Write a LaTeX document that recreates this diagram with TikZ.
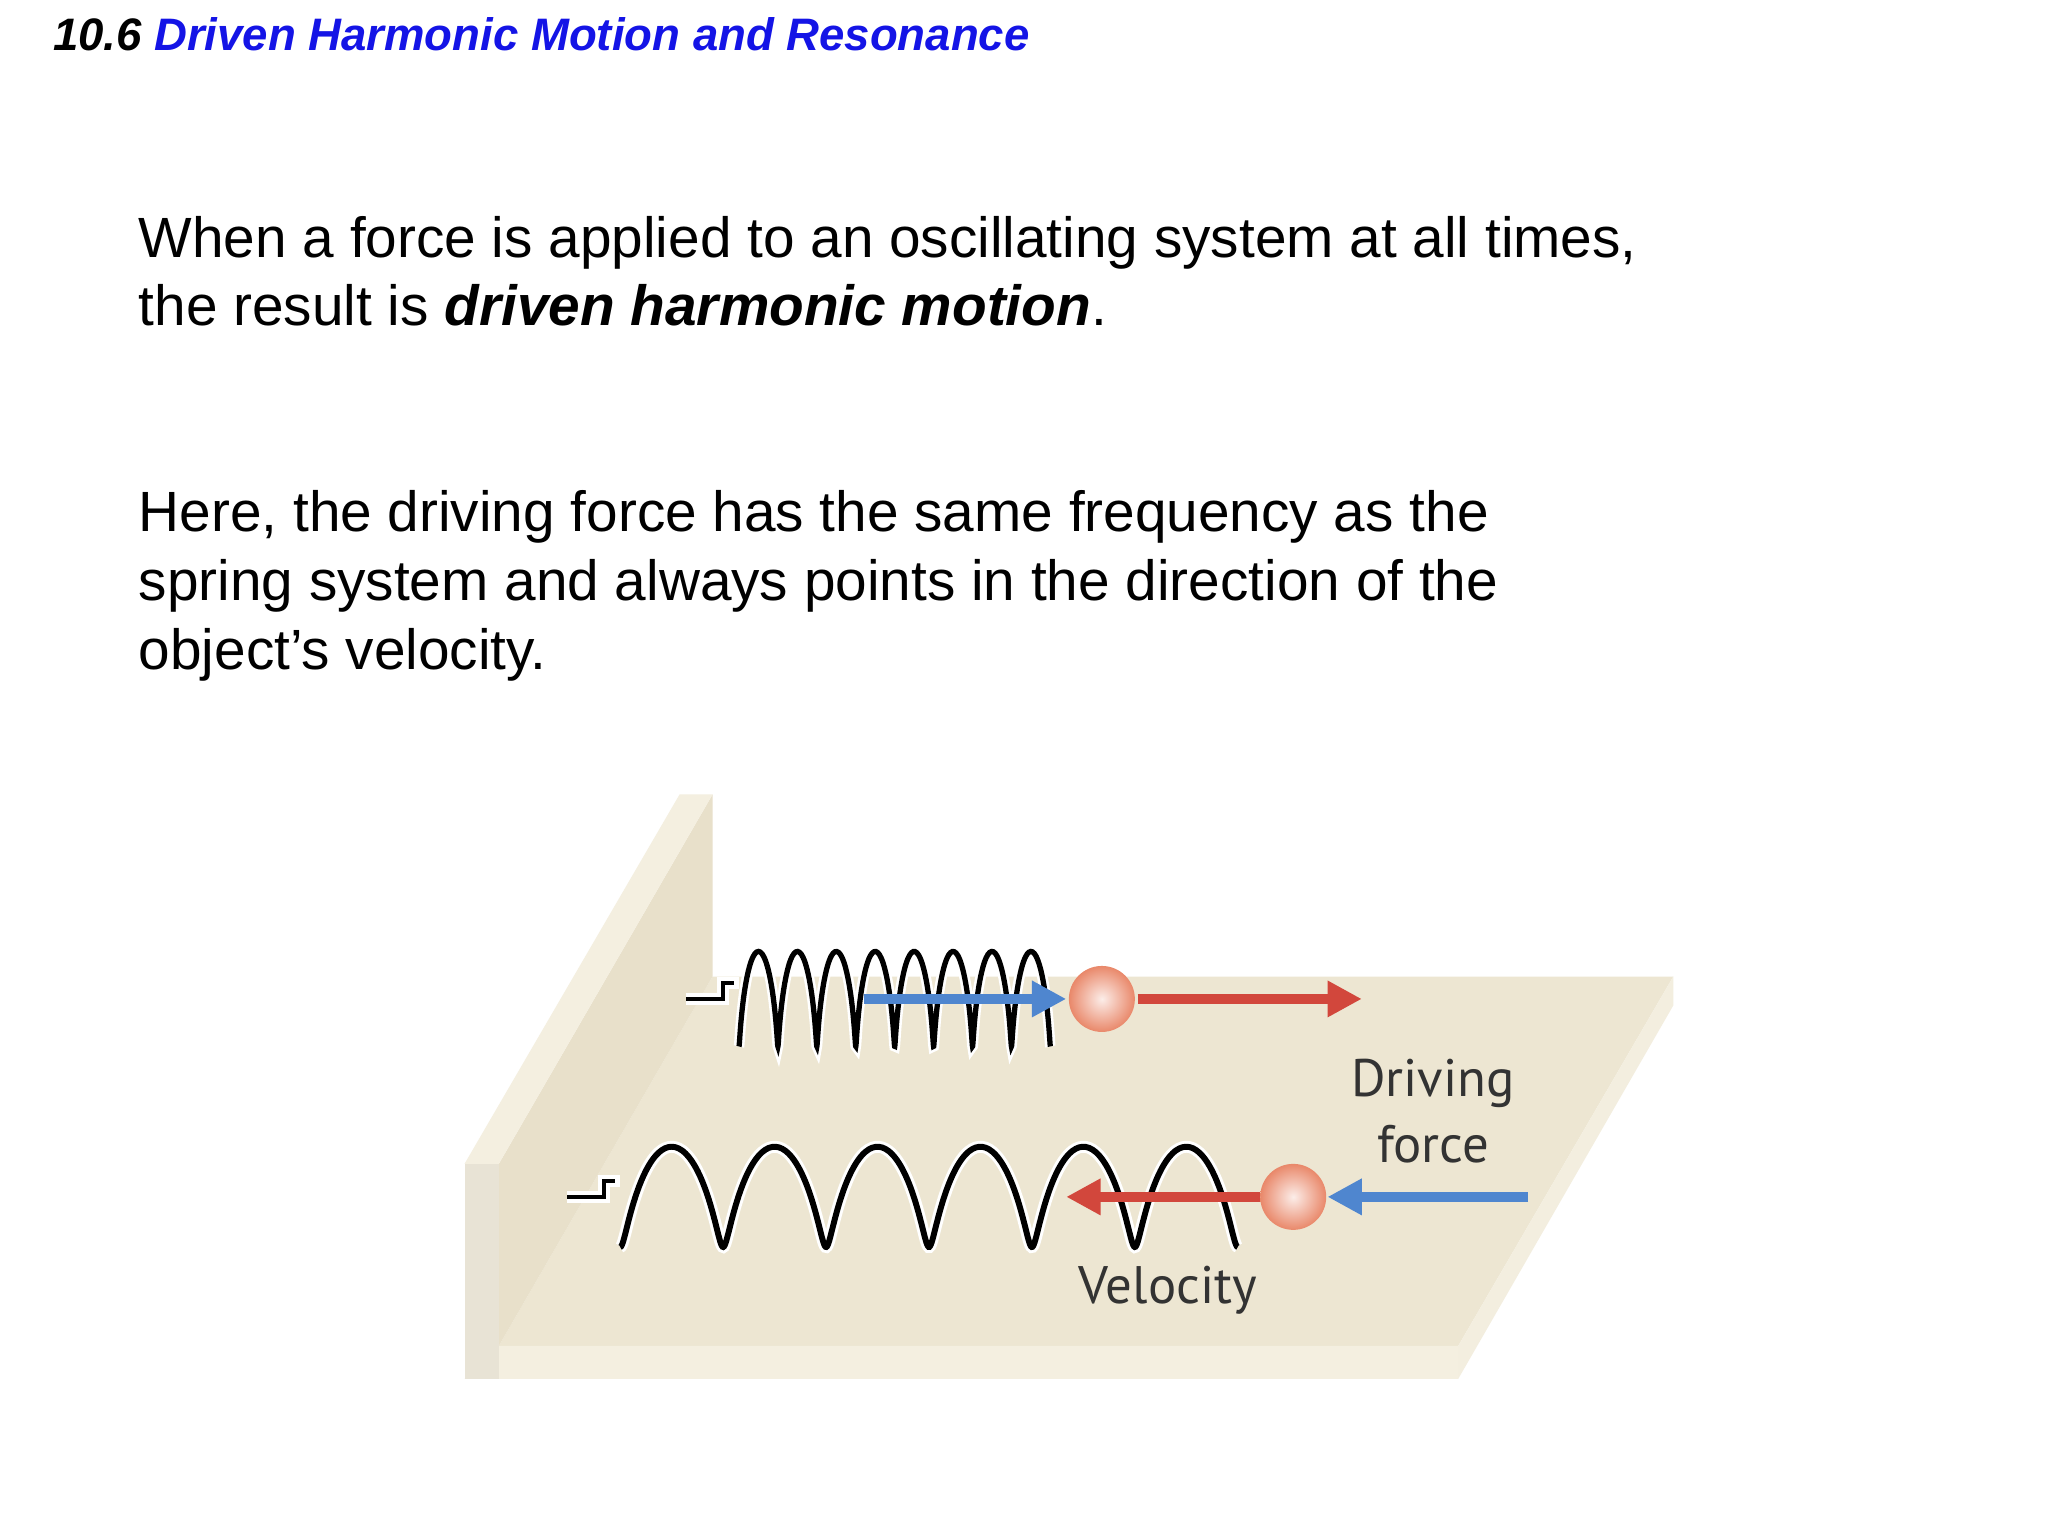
\documentclass[tikz,border=0pt]{standalone}
\usepackage{fontspec}
\setmainfont{Liberation Sans}
\newfontfamily\labfont{PT Sans}
\usetikzlibrary{arrows.meta}
\definecolor{floorc}{HTML}{EDE6D2}
\definecolor{edgec}{HTML}{F4EFE0}
\definecolor{wallc}{HTML}{E8E0CA}
\definecolor{redar}{HTML}{D2473C}
\definecolor{bluear}{HTML}{4F86CF}
\definecolor{ballc}{HTML}{E9886A}
\definecolor{titleblue}{HTML}{1414E6}
\tikzset{
 body/.style={anchor=base west,inner sep=0pt,font=\fontsize{43}{52}\selectfont},
 lab/.style={inner sep=0pt,font=\labfont\fontsize{40}{50}\selectfont,text=black!80,align=center},
 arr/.style={line width=7pt,-{Triangle[length=26pt,width=26pt]}},
 coilw/.style={white,line width=9pt},
 coilb/.style={black,line width=4.5pt},
 ballsh/.style={inner color=white!85!ballc,outer color=ballc}
}
\begin{document}
\begin{tikzpicture}[x=1pt,y=-1pt]
\useasboundingbox[fill=white] (0,0) rectangle (1552,1164);
\node[anchor=base west,inner sep=0pt,font=\fontsize{34.5}{40}\selectfont\bfseries\itshape] (title) at (40,38) {10.6 \textcolor{titleblue}{Driven Harmonic Motion and Resonance}};
\node[body] (t1) at (105,195) {When a force is applied to an oscillating system at all times,};
\node[body] (t2) at (105,247) {the result is \textbf{\textit{driven harmonic motion}}.};
\node[body] (t3) at (105,403) {Here, the driving force has the same frequency as the};
\node[body] (t4) at (105,455) {spring system and always points in the direction of the};
\node[body] (t5) at (105,507) {object’s velocity.};
% floor
\fill[floorc] (540,740) -- (1268,740) -- (1105,1020) -- (378,1020) -- cycle;
\fill[edgec] (378,1020) -- (1105,1020) -- (1105,1045) -- (352,1045) -- cycle;
\fill[edgec!90!floorc] (1268,740) -- (1268,762) -- (1105,1045) -- (1105,1020) -- cycle;
% wall
\fill[wallc] (540,602) -- (540,740) -- (378,1020) -- (378,882) -- cycle;
\fill[edgec] (515,602) -- (540,602) -- (378,882) -- (352,882) -- cycle;
\fill[edgec!95!black] (352,882) -- (378,882) -- (378,1045) -- (352,1045) -- cycle;
% top spring
\draw[coilw] (520,757) -- (548,757) -- (548,745) -- (560,745);
\draw[coilb,line width=3pt] (520,757) -- (548,757) -- (548,745) -- (556,745);
\draw[coilw,line width=8pt] plot[domain=0:8,samples=320,smooth] ({560+29.5*\x-4*sin(360*\x)},{757+36*cos(360*\x)});
\draw[coilb,line width=4pt] plot[domain=0:8,samples=320,smooth] ({560+29.5*\x-4*sin(360*\x)},{757+36*cos(360*\x)});
% bottom spring
\draw[coilw] (430,907) -- (458,907) -- (458,895) -- (470,895);
\draw[coilb,line width=3pt] (430,907) -- (458,907) -- (458,895) -- (466,895);
\draw[coilw] plot[domain=0:6,samples=300,smooth] ({470+78*\x-8*sin(360*\x)},{907+38*cos(360*\x)});
\draw[coilb] plot[domain=0:6,samples=300,smooth] ({470+78*\x-8*sin(360*\x)},{907+38*cos(360*\x)});
% balls
\shade[ballsh] (835,757) circle (25) node (b1) {};
\shade[ballsh] (980,907) circle (25) node (b2) {};
\coordinate (r1s) at (862,757); \coordinate (r1e) at (1032,757);
\coordinate (u1s) at (655,757); \coordinate (u1e) at (808,757);
\coordinate (r2s) at (955,907); \coordinate (r2e) at (808,907);
\coordinate (u2s) at (1158,907); \coordinate (u2e) at (1006,907);
\draw[arr,redar] (r1s) -- (r1e);
\draw[arr,bluear] (u1s) -- (u1e);
\draw[arr,redar] (r2s) -- (r2e);
\draw[arr,bluear] (u2s) -- (u2e);
\node[lab] (df) at (1086,842) {Driving\\force};
\node[lab] (vel) at (885,978) {Velocity};
\end{tikzpicture}
\end{document}
